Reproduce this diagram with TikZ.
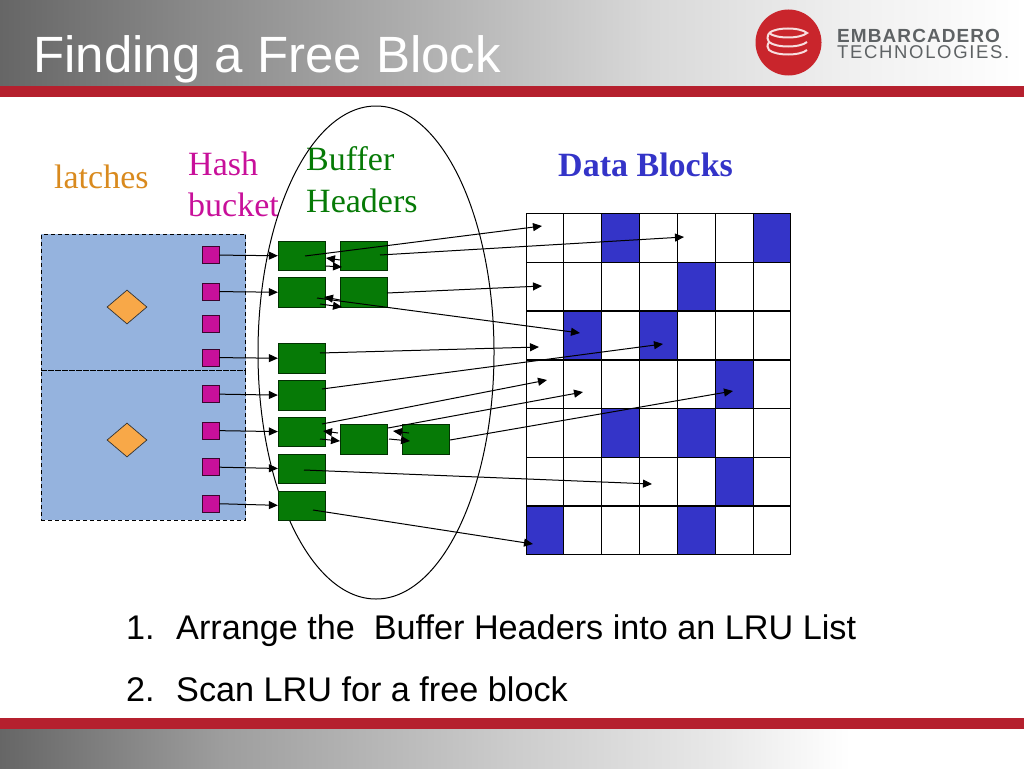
\documentclass[tikz,border=0pt]{standalone}
\usepackage{fontspec}
\setmainfont{Liberation Serif}
\newfontfamily\sansf{Liberation Sans}
\usetikzlibrary{arrows.meta,shapes.geometric}
\definecolor{barred}{HTML}{B5202E}
\definecolor{panelblue}{HTML}{95B3DE}
\definecolor{hashpink}{HTML}{C8109A}
\definecolor{hdrgreen}{HTML}{067A06}
\definecolor{blockblue}{HTML}{3434C8}
\definecolor{latchorange}{HTML}{F8A848}
\definecolor{txtorange}{HTML}{D98A1E}
\definecolor{logored}{HTML}{C9252C}
\definecolor{logogray}{HTML}{5E6264}
% path box maps to 25bp..75bp of the shading
\pgfdeclarehorizontalshading{headband}{100bp}{color(0bp)=(black!60); color(25bp)=(black!60); color(34.6bp)=(black!46); color(45.7bp)=(black!31); color(56.9bp)=(black!15); color(66.5bp)=(black!6); color(75bp)=(white); color(100bp)=(white)}
\pgfdeclarehorizontalshading{footband}{100bp}{color(0bp)=(black!60); color(25bp)=(black!60); color(36bp)=(black!38); color(50bp)=(black!20); color(60bp)=(black!9); color(66.5bp)=(white); color(100bp)=(white)}
\tikzset{
  hash/.style={draw=black!70!hashpink,fill=hashpink,line width=.8pt,minimum width=17pt,minimum height=17pt,inner sep=0pt},
  hdr/.style={draw=black!60!hdrgreen,fill=hdrgreen,line width=.8pt,minimum width=47.5pt,minimum height=29.5pt,inner sep=0pt},
  latch/.style={diamond,aspect=1.18,draw=black!80,fill=latchorange,line width=.7pt,minimum width=40pt,minimum height=34pt,inner sep=0pt},
  cell/.style={draw=black,line width=1pt,minimum width=37.7pt,minimum height=48.7pt,inner sep=0pt},
  full/.style={cell,fill=blockblue},
  panel/.style={draw=black,dash pattern=on 4pt off 3pt,fill=panelblue,line width=.9pt,minimum width=204.5pt,inner sep=0pt},
  link/.style={-{Triangle[length=9pt,width=8pt]},line width=1pt,black},
  lbl/.style={anchor=base west,inner sep=0pt,font=\fontsize{34}{34}\selectfont},
  item/.style={anchor=base west,inner sep=0pt,font=\sansf\fontsize{34.2}{34}\selectfont}
}
\begin{document}
\begin{tikzpicture}[x=1pt,y=-1pt]
\useasboundingbox (0,0) rectangle (1024,768);
% header and footer bands
\shade[shading=headband] (0,0) rectangle (1024,86);
\fill[barred] (0,86) rectangle (1024,97);
\fill[barred] (0,718) rectangle (1024,729);
\shade[shading=footband] (0,729) rectangle (1024,768);
\node[anchor=base west,inner sep=0pt,text=white,font=\sansf\fontsize{51}{51}\selectfont] (title) at (33,72) {Finding a Free Block};
% logo
\node[circle,fill=logored,minimum size=66pt,inner sep=0pt] (logo) at (788.5,42.5) {};
\draw[white!85!logored,line width=2pt] (769,33) .. controls (776,27) and (800,27) .. (807,33) .. controls (800,39) and (776,39) .. (769,33);
\draw[white!85!logored,line width=2pt] (769,33) .. controls (767,37) and (767,40) .. (769,42) .. controls (776,48) and (800,48) .. (807,42);
\draw[white!85!logored,line width=2pt] (769,42) .. controls (767,45) and (767,48) .. (769,50) .. controls (776,56) and (800,56) .. (807,50);
\node[anchor=base west,inner sep=0pt,text=logogray,font=\sansf\bfseries\fontsize{19}{19}\selectfont\addfontfeature{LetterSpace=5.7}] (emb) at (837,42) {EMBARCADERO};
\node[anchor=base west,inner sep=0pt,text=logogray,font=\sansf\fontsize{18.5}{18.5}\selectfont\addfontfeature{LetterSpace=9}] (tech) at (837,59) {TECHNOLOGIES.};
% labels
\node[lbl,text=txtorange] (latches) at (54,188) {latches};
\node[lbl,text=hashpink] (hashl) at (188,175) {Hash};
\node[lbl,text=hashpink] (bucketl) at (188,216) {bucket};
\node[lbl,text=hdrgreen] (bufl) at (306,170) {Buffer};
\node[lbl,text=hdrgreen] (headl) at (306,212) {Headers};
\node[lbl,text=blockblue,font=\bfseries\fontsize{34}{34}\selectfont] (datal) at (558,176) {Data Blocks};
% latch panels
\node[panel,minimum height=136.5pt] (p1) at (143.25,302.25) {};
\node[panel,minimum height=149.5pt] (p2) at (143.25,445.25) {};
\node[latch] (d1) at (127,307) {};
\node[latch] (d2) at (127,440) {};
% ellipse
\node[ellipse,draw=black,line width=1pt,minimum width=236pt,minimum height=493pt,inner sep=0pt] (list) at (376,352.5) {};
% hash buckets
\node[hash] (h1) at (210.5,255) {};
\node[hash] (h2) at (210.5,291.5) {};
\node[hash] (h3) at (210.5,323.5) {};
\node[hash] (h4) at (210.5,357.5) {};
\node[hash] (h5) at (210.5,394) {};
\node[hash] (h6) at (210.5,430.5) {};
\node[hash] (h7) at (210.5,467) {};
\node[hash] (h8) at (210.5,503.5) {};
% buffer headers
\node[hdr] (g1) at (302,256) {};
\node[hdr] (g2) at (302,292.5) {};
\node[hdr] (g3) at (302,358.5) {};
\node[hdr] (g4) at (302,395.5) {};
\node[hdr] (g5) at (302,432) {};
\node[hdr] (g6) at (302,469) {};
\node[hdr] (g7) at (302,506) {};
\node[hdr] (b1) at (364,256) {};
\node[hdr] (b2) at (364,292.5) {};
\node[hdr] (m1) at (364,439.5) {};
\node[hdr] (t1) at (426,439.5) {};
% data blocks
\foreach \rr/\yy/\cols in {0/238/{0,1,3,4,5},1/286.5/{0,1,2,3,5,6},2/335.5/{0,2,4,5,6},3/384.5/{0,1,2,3,4,6},4/433/{0,1,3,5,6},5/481.5/{0,1,2,3,4,6},6/530.5/{1,2,3,5,6}}
  \foreach \cc in \cols
    \node[cell] (c\rr-\cc) at (545+\cc*37.83,\yy) {};
\foreach \rr/\yy/\cols in {0/238/{2,6},1/286.5/{4},2/335.5/{1,3},3/384.5/{5},4/433/{2,4},5/481.5/{5},6/530.5/{0,4}}
  \foreach \cc in \cols
    \node[full] (c\rr-\cc) at (545+\cc*37.83,\yy) {};
% free ends of the links
\coordinate (s1) at (305,256); \coordinate (e1) at (542,226);
\coordinate (s2) at (380,255); \coordinate (e2) at (684,237);
\coordinate (s3) at (387,293); \coordinate (e3) at (542,286);
\coordinate (s4) at (317,298); \coordinate (e4) at (580,333);
\coordinate (s5) at (320,353); \coordinate (e5) at (539,347);
\coordinate (s6) at (322,389); \coordinate (e6) at (663,344);
\coordinate (s7) at (322,424); \coordinate (e7) at (547,380);
\coordinate (s8) at (388,428); \coordinate (e8) at (583,392);
\coordinate (s9) at (450,440); \coordinate (e9) at (733,391);
\coordinate (s10) at (304,470); \coordinate (e10) at (652,484);
\coordinate (s11) at (313,510); \coordinate (e11) at (533,544);
\coordinate (l1a) at (340,260); \coordinate (l1b) at (326,258);
\coordinate (r1a) at (326,266); \coordinate (r1b) at (342,267);
\coordinate (l2a) at (340,300); \coordinate (l2b) at (324,297);
\coordinate (r2a) at (320,304); \coordinate (r2b) at (342,307);
\coordinate (l3a) at (338,433); \coordinate (l3b) at (323,431);
\coordinate (r3a) at (320,439); \coordinate (r3b) at (340,441);
\coordinate (l4a) at (409,433); \coordinate (l4b) at (393,431);
\coordinate (r4a) at (389,439); \coordinate (r4b) at (410,441);
% bucket to header
\draw[link] (h1) -- (g1);
\draw[link] (h2) -- (g2);
\draw[link] (h4) -- (g3);
\draw[link] (h5) -- (g4);
\draw[link] (h6) -- (g5);
\draw[link] (h7) -- (g6);
\draw[link] (h8) -- (g7);
% header to block
\foreach \n in {1,...,11}
  \draw[link] (s\n) -- (e\n);
% chains
\foreach \n in {1,...,4} {
  \draw[link] (l\n a) -- (l\n b);
  \draw[link] (r\n a) -- (r\n b);
}
% list
\node[item] (n1) at (126,639) {1.};
\node[item] (t1l) at (176,639) {Arrange the\ \ Buffer Headers into an LRU List};
\node[item] (n2) at (126,701) {2.};
\node[item] (t2l) at (176,701) {Scan LRU for a free block};
\end{tikzpicture}
\end{document}
